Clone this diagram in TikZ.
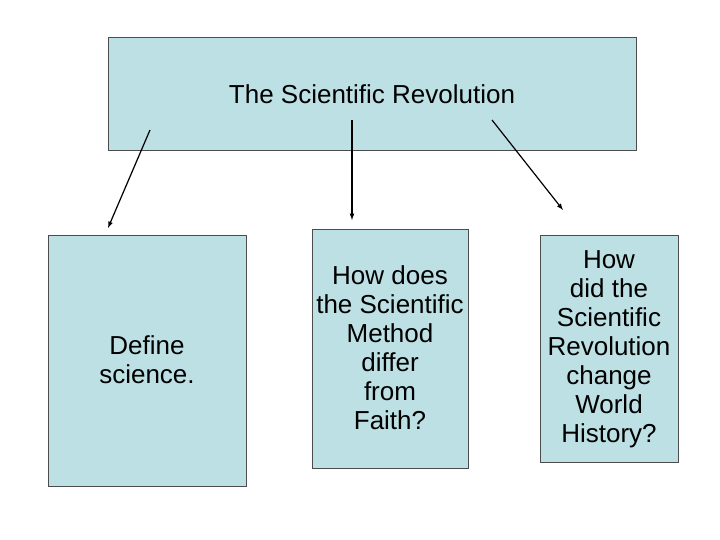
\documentclass[tikz,border=0pt]{standalone}
\usepackage{fontspec}
\setmainfont{Liberation Sans}
\definecolor{boxfill}{HTML}{BDE0E4}
\begin{document}
\begin{tikzpicture}[x=1pt,y=-1pt,
  box/.style={draw=black!70,fill=boxfill,line width=0.8pt},
  lbl/.style={align=center,font=\fontsize{26}{29}\selectfont,inner sep=0pt},
  arr/.style={-latex,line width=1.2pt}]
\useasboundingbox (0,0) rectangle (720,540);
\filldraw[box] (108,37) rectangle (636,150);
\node[lbl] (top) at (372,94) {The Scientific Revolution};
\filldraw[box] (48,235) rectangle (246,486);
\node[lbl] (l) at (147,360) {Define\\science.};
\filldraw[box] (312,229) rectangle (468,468);
\node[lbl] (m) at (390,348) {How does\\the Scientific\\Method\\differ\\from\\Faith?};
\filldraw[box] (540,235) rectangle (678,462);
\node[lbl] (r) at (609,349) {How\\did the\\Scientific\\Revolution\\change\\World\\History?};
\coordinate (a1) at (150,130); \coordinate (b1) at (108,228);
\coordinate (a2) at (352,120); \coordinate (b2) at (352,220);
\coordinate (a3) at (492,120); \coordinate (b3) at (563,210);
\draw[arr] (a1) -- (b1);
\draw[arr] (a2) -- (b2);
\draw[arr] (a3) -- (b3);
\end{tikzpicture}
\end{document}
